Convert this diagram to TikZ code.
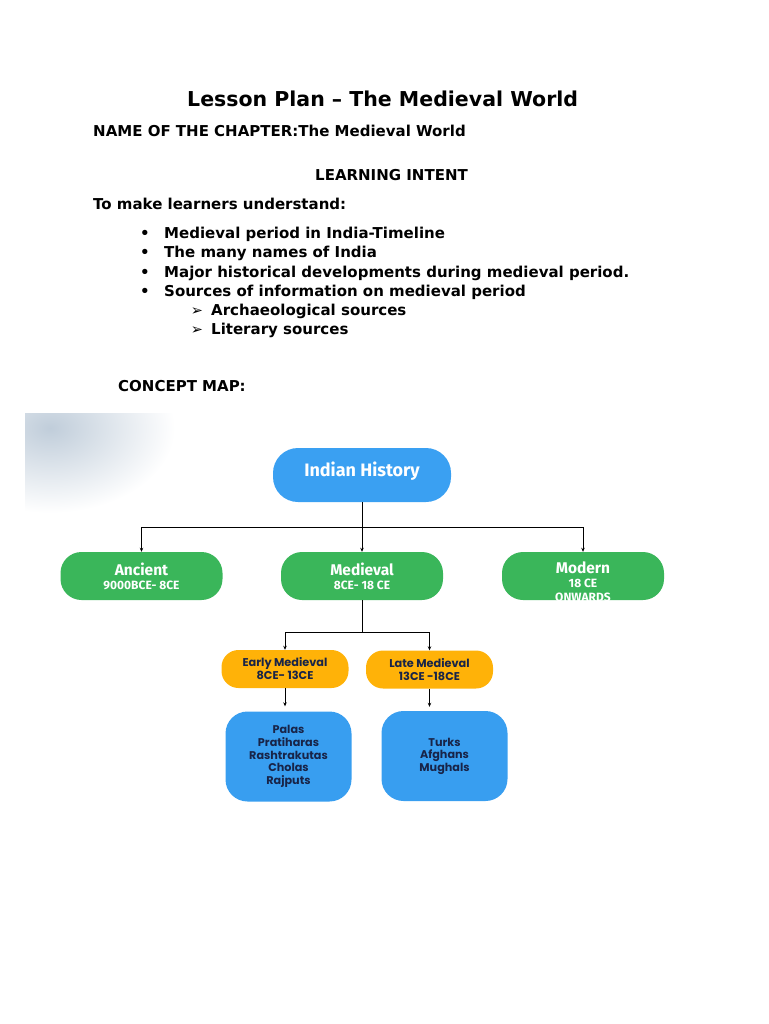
\documentclass[tikz,border=0pt]{standalone}
\usepackage{fontspec}
\setmainfont{DejaVu Sans}
\newfontfamily\fira{Fira Sans}
\newfontfamily\pop{Poppins}
\usetikzlibrary{arrows.meta}
\definecolor{hblue}{RGB}{58,160,242}
\definecolor{bblue}{RGB}{56,158,240}
\definecolor{hgreen}{RGB}{58,182,90}
\definecolor{horange}{RGB}{255,178,8}
\definecolor{navy}{RGB}{24,36,72}
\definecolor{fog}{RGB}{192,205,218}
\newcommand\gsub{\fontsize{12}{12}\selectfont}
\begin{document}
\begin{tikzpicture}[x=1pt,y=-1pt,
  txt/.style={anchor=base west,inner sep=0pt,font=\bfseries\fontsize{15}{18}\selectfont},
  bul/.style={anchor=base,inner sep=0pt,font=\bfseries\fontsize{15}{18}\selectfont},
  pill/.style={inner sep=0pt,align=center},
  gbox/.style={pill,fill=hgreen,rounded corners=21pt,minimum width=162pt,minimum height=48pt,text=white,font=\fira\bfseries\fontsize{15.5}{15}\selectfont},
  obox/.style={pill,fill=horange,rounded corners=17pt,minimum width=127pt,minimum height=38pt,text=navy,font=\pop\bfseries\fontsize{11.3}{13}\selectfont},
  bbox/.style={pill,fill=bblue,rounded corners=22pt,minimum width=126pt,minimum height=90pt,text=navy,font=\pop\bfseries\fontsize{11.2}{12.6}\selectfont},
  arr/.style={-{Stealth[length=4pt,width=3.5pt]},line width=0.8pt,black},
  ln/.style={line width=0.8pt,black}]
\useasboundingbox (0,0) rectangle (768,1024);
% faded patch top-left
\begin{scope}
  \clip (25,413) rectangle (175,512);
  \shade[inner color=fog,outer color=white] (50,428) ellipse (125 and 85);
\end{scope}
% header texts
\node[anchor=base west,inner sep=0pt,font=\bfseries\fontsize{20.5}{24}\selectfont] (title) at (187,107) {Lesson Plan – The Medieval World};
\node[txt] (chap) at (93,137) {NAME OF THE CHAPTER:The Medieval World};
\node[txt] (intent) at (315,181) {LEARNING INTENT};
\node[txt] (make) at (93,210) {To make learners understand:};
\node[bul] (b1) at (145,238) {•};
\node[txt] (t1) at (164,238) {Medieval period in India-Timeline};
\node[bul] (b2) at (145,257) {•};
\node[txt] (t2) at (164,257) {The many names of India};
\node[bul] (b3) at (145,277) {•};
\node[txt] (t3) at (164,277) {Major historical developments during medieval period.};
\node[bul] (b4) at (145,296) {•};
\node[txt] (t4) at (164,296) {Sources of information on medieval period};
\node[bul,font=\fontsize{14.5}{16}\selectfont] (s1) at (197,315.5) {➢};
\node[txt] (u1) at (211,315) {Archaeological sources};
\node[bul,font=\fontsize{14.5}{16}\selectfont] (s2) at (197,334.5) {➢};
\node[txt] (u2) at (211,334) {Literary sources};
\node[txt] (cmap) at (118,391) {CONCEPT MAP:};
% concept map
\node[pill,fill=hblue,rounded corners=25pt,minimum width=178pt,minimum height=54pt,text=white,font=\fira\bfseries\fontsize{18}{20}\selectfont] (hist) at (362,475) {\raisebox{4pt}[\height][\depth]{Indian History}};
\node[gbox] (anc) at (141.5,576) {Ancient\\[-1pt]{\gsub 9000BCE- 8CE}};
\node[gbox] (med) at (362,576) {Medieval\\[-1pt]{\gsub 8CE- 18 CE}};
\node[gbox] (mod) at (583,576) {};
\node[pill,text=white,font=\fira\bfseries\fontsize{15.5}{15}\selectfont] (modt) at (583,582) {Modern\\[-1pt]{\gsub 18 CE}\\[-1pt]{\gsub ONWARDS}};
\coordinate (bus1) at (362,527);
\draw[ln] (hist.south) -- (bus1);
\draw[arr] (bus1) -| (anc.north);
\draw[arr] (bus1) -| (mod.north);
\draw[arr] (bus1) -- (med.north);
\node[obox] (early) at (285,669) {Early Medieval\\8CE- 13CE};
\node[obox] (late) at (429.5,669.5) {Late Medieval\\13CE -18CE};
\coordinate (bus2) at (362,632);
\draw[ln] (med.south) -- (bus2);
\draw[arr] (bus2) -| (early.north);
\draw[arr] (bus2) -| (late.north);
\node[bbox] (dyn1) at (288.5,756.5) {Palas\\Pratiharas\\Rashtrakutas\\Cholas\\Rajputs};
\node[bbox] (dyn2) at (444.5,756) {Turks\\Afghans\\Mughals};
\draw[arr,line width=0.6pt,shorten >=5pt] (early.south) -- (early.south |- dyn1.north);
\draw[arr,shorten >=4pt] (late.south) -- (late.south |- dyn2.north);
\end{tikzpicture}
\end{document}
